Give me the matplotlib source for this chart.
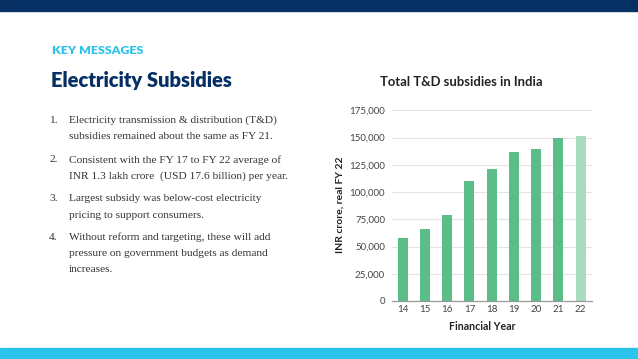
import numpy as np
import matplotlib
matplotlib.use("Agg")
import matplotlib.pyplot as plt
from matplotlib.patches import Rectangle

# data
years = ["14", "15", "16", "17", "18", "19", "20", "21", "22"]
subsidies = [58200, 66000, 79100, 110400, 121100, 137000, 139800, 149900, 151400]
yticks = [0, 25000, 50000, 75000, 100000, 125000, 150000, 175000]

bullets = [
    ["Electricity transmission & distribution (T&D)",
     "subsidies remained about the same as FY 21."],
    ["Consistent with the FY 17 to FY 22 average of",
     "INR 1.3 lakh crore  (USD 17.6 billion) per year."],
    ["Largest subsidy was below-cost electricity",
     "pricing to support consumers."],
    ["Without reform and targeting, these will add",
     "pressure on government budgets as demand",
     "increases."],
]

W, H = 638, 359
navy = "#062f63"
cyan = "#29c3eb"
green = "#5bbd88"
green_light = "#a9dcbf"

fig = plt.figure(figsize=(W / 100, H / 100), dpi=100)

def px(x, y):
    return x / W, 1 - y / H

# top and bottom bands
fig.patches.append(Rectangle((0, 1 - 11 / H), 1, 11 / H, transform=fig.transFigure,
                             color=navy, zorder=0))
fig.patches.append(Rectangle((0, 0), 1, 11 / H, transform=fig.transFigure,
                             color=cyan, zorder=0))

# left text block
fig.text(*px(52, 50), "KEY MESSAGES", color=cyan, fontsize=8.8, fontweight="heavy",
         family="Lato", va="center", ha="left")
fig.text(*px(51, 80), "Electricity Subsidies", color=navy, fontsize=14.5, fontweight="heavy",
         family="Lato", va="center", ha="left")

item_y = [120, 160, 199, 237]
for i, (lines, y0) in enumerate(zip(bullets, item_y)):
    fig.text(*px(49, y0), f"{i + 1}.", color="#333333", fontsize=8.2,
             family="Liberation Serif", va="center", ha="left")
    for j, ln in enumerate(lines):
        fig.text(*px(69, y0 + j * 16.3), ln, color="#333333", fontsize=8.2,
                 family="Liberation Serif", va="center", ha="left")

# chart
per = 27.24 / 25000
top = 180000
ax_h = top * per
ax = fig.add_axes([392 / W, 1 - 301 / H, 200 / W, ax_h / H])
x = np.arange(len(years))
colors = [green] * (len(years) - 1) + [green_light]
ax.bar(x, subsidies, width=0.45, color=colors, zorder=2)
ax.set_xlim(-0.48, len(years) - 0.49)
ax.set_ylim(0, top)
ax.set_yticks(yticks)
ax.set_yticklabels([f"{v:,}" for v in yticks])
ax.set_xticks(x)
ax.set_xticklabels(years)
ax.grid(axis="y", color="#e4e4e4", linewidth=0.8, zorder=0)
ax.tick_params(axis="y", length=0, labelsize=7, colors="#444444", pad=5)
ax.tick_params(axis="x", length=0, labelsize=7, colors="#444444", pad=3)
for lab in ax.get_xticklabels() + ax.get_yticklabels():
    lab.set_family("Lato")
for s in ["top", "right", "left"]:
    ax.spines[s].set_visible(False)
ax.spines["bottom"].set_color("#999999")
ax.spines["bottom"].set_linewidth(0.9)

fig.text(*px(461, 82), "Total T&D subsidies in India", fontsize=9.4, fontweight="bold",
         family="Lato", color="#222222", ha="center", va="center")
fig.text(*px(340, 205), "INR crore, real FY 22", fontsize=7.5, fontweight="bold",
         family="Lato", color="#222222", ha="center", va="center", rotation=90)
fig.text(*px(482, 327), "Financial Year", fontsize=7.7, fontweight="bold",
         family="Lato", color="#222222", ha="center", va="center")

fig.savefig("out.png", dpi=100)
